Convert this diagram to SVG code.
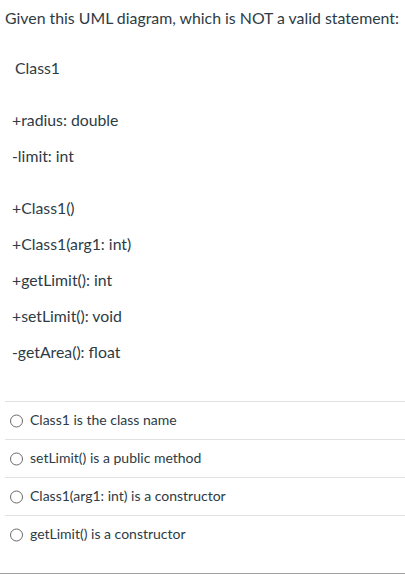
<svg xmlns="http://www.w3.org/2000/svg" width="405" height="577" viewBox="0 0 405 577">
<style>
text{font-family:Lato,"Open Sans","Liberation Sans",sans-serif;fill:#2d3b45}
.t{font-size:15.85px}
.u{font-size:15.8px}
.o{font-size:14px}
.sep{stroke:#dfe1e3;stroke-width:1}
.radio{fill:#fff;stroke:#6b6b6b;stroke-width:1}
</style>
<rect width="405" height="577" fill="#fff"/>
<text class="t" x="5" y="24">Given this UML diagram, which is NOT a valid statement:</text>
<g id="uml">
<text class="u" x="15" y="74">Class1</text>
<text class="u" x="12" y="126">+radius: double</text>
<text class="u" x="12" y="162">-limit: int</text>
<text class="u" x="12" y="214">+Class1()</text>
<text class="u" x="12" y="250">+Class1(arg1: int)</text>
<text class="u" x="12" y="286">+getLimit(): int</text>
<text class="u" x="12" y="322">+setLimit(): void</text>
<text class="u" x="12" y="358">-getArea(): float</text>
</g>
<g id="options">
<line class="sep" x1="5" y1="401.5" x2="405" y2="401.5"/>
<line class="sep" x1="5" y1="439.5" x2="405" y2="439.5"/>
<line class="sep" x1="5" y1="477.5" x2="405" y2="477.5"/>
<line class="sep" x1="5" y1="515.5" x2="405" y2="515.5"/>
<line x1="0" y1="573.5" x2="405" y2="573.5" stroke="#a0a0a0" stroke-width="1"/>
<g id="opt1"><circle class="radio" cx="16.5" cy="421" r="6"/><text class="o" x="30" y="425">Class1 is the class name</text></g>
<g id="opt2"><circle class="radio" cx="16.5" cy="459" r="6"/><text class="o" x="30" y="463">setLimit() is a public method</text></g>
<g id="opt3"><circle class="radio" cx="16.5" cy="497" r="6"/><text class="o" x="30" y="501">Class1(arg1: int) is a constructor</text></g>
<g id="opt4"><circle class="radio" cx="16.5" cy="535" r="6"/><text class="o" x="30" y="539">getLimit() is a constructor</text></g>
</g>
</svg>
